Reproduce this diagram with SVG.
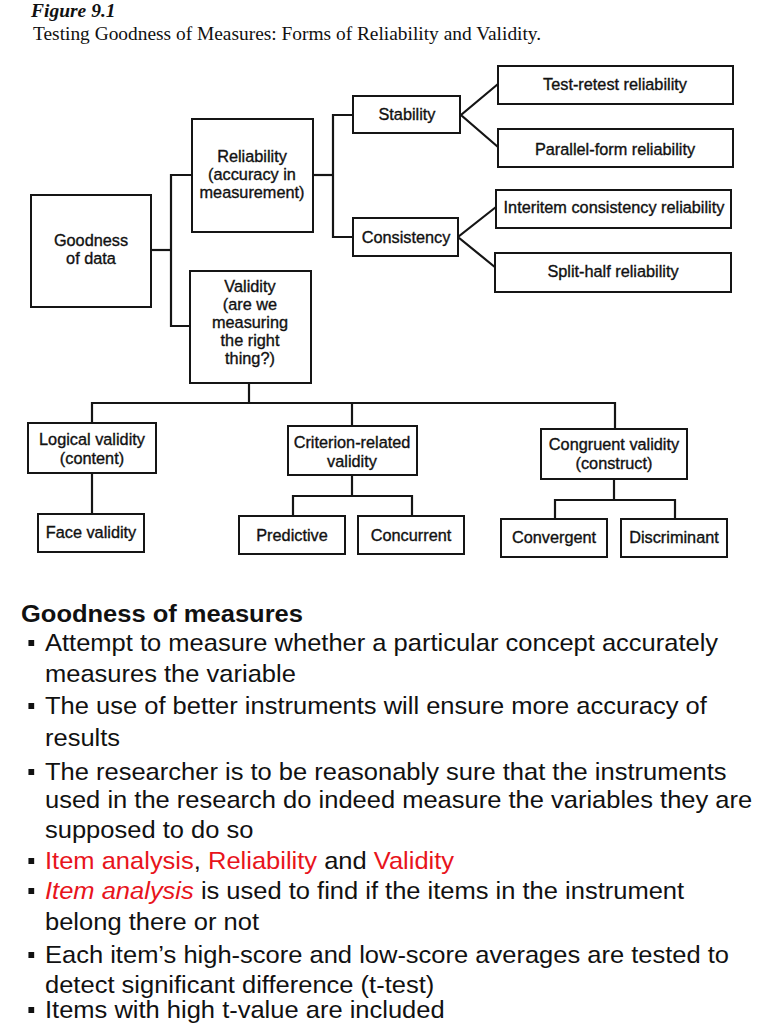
<svg xmlns="http://www.w3.org/2000/svg" width="768" height="1024" viewBox="0 0 768 1024">
<style>
.box{fill:#fff;stroke:#151515;stroke-width:2}
.lbl{font-family:"Liberation Sans",Arial,sans-serif;font-size:16.3px;fill:#111;stroke:#111;stroke-width:0.35;text-anchor:middle}
.con{fill:none;stroke:#151515;stroke-width:2.2}
.body{font-family:"Liberation Sans",Arial,sans-serif;font-size:24px;fill:#111}
.red{fill:#e8141c}
.bul{fill:#111}
</style>
<rect width="768" height="1024" fill="#fff"/>
<text x="31" y="17" font-family="Liberation Serif,serif" font-size="19.5" font-weight="bold" font-style="italic" fill="#111">Figure 9.1</text>
<text x="33" y="40" font-family="Liberation Serif,serif" font-size="19.4" fill="#111">Testing Goodness of Measures: Forms of Reliability and Validity.</text>

<g id="connectors" class="con">
<polyline points="151,250 171,250"/>
<polyline points="192,175 171,175 171,326 190,326"/>
<polyline points="313,175 333,175"/>
<polyline points="353,115 333,115 333,237 353,237"/>
<polyline points="498,84 461,115 498,147"/>
<polyline points="496,207 458,237 496,268"/>
<polyline points="249,383 249,403"/>
<polyline points="92,423 92,403 615,403 615,429"/>
<polyline points="352,403 352,426"/>
<polyline points="92,473 92,514"/>
<polyline points="352,475 352,496"/>
<polyline points="293,516 293,496 412,496 412,516"/>
<polyline points="614,479 614,500"/>
<polyline points="555,519 555,500 675,500 675,519"/>
</g>

<g id="goodness"><rect class="box" x="31" y="195" width="120" height="112"/><text class="lbl" x="91" y="246">Goodness</text><text class="lbl" x="91" y="264">of data</text></g>
<g id="reliability"><rect class="box" x="192" y="119" width="121" height="113"/><text class="lbl" x="252" y="162">Reliability</text><text class="lbl" x="252" y="180">(accuracy in</text><text class="lbl" x="252" y="198">measurement)</text></g>
<g id="validity"><rect class="box" x="190" y="271" width="121" height="112"/><text class="lbl" x="250" y="292">Validity</text><text class="lbl" x="250" y="310">(are we</text><text class="lbl" x="250" y="328">measuring</text><text class="lbl" x="250" y="346">the right</text><text class="lbl" x="250" y="364">thing?)</text></g>
<g id="stability"><rect class="box" x="353" y="96" width="107" height="37"/><text class="lbl" x="407" y="120">Stability</text></g>
<g id="consistency"><rect class="box" x="353" y="218" width="105" height="38"/><text class="lbl" x="406" y="243">Consistency</text></g>
<g id="testretest"><rect class="box" x="498" y="66" width="235" height="38"/><text class="lbl" x="615" y="90">Test-retest reliability</text></g>
<g id="parallel"><rect class="box" x="498" y="129" width="235" height="38"/><text class="lbl" x="615" y="155">Parallel-form reliability</text></g>
<g id="interitem"><rect class="box" x="496" y="190" width="235" height="38"/><text class="lbl" x="614" y="213">Interitem consistency reliability</text></g>
<g id="splithalf"><rect class="box" x="495" y="253" width="236" height="39"/><text class="lbl" x="613" y="277">Split-half reliability</text></g>
<g id="logical"><rect class="box" x="28" y="423" width="128" height="50"/><text class="lbl" x="92" y="445">Logical validity</text><text class="lbl" x="92" y="464">(content)</text></g>
<g id="criterion"><rect class="box" x="288" y="426" width="129" height="49"/><text class="lbl" x="352" y="448">Criterion-related</text><text class="lbl" x="352" y="467">validity</text></g>
<g id="congruent"><rect class="box" x="541" y="429" width="146" height="50"/><text class="lbl" x="614" y="450">Congruent validity</text><text class="lbl" x="614" y="469">(construct)</text></g>
<g id="face"><rect class="box" x="38" y="514" width="106" height="38"/><text class="lbl" x="91" y="538">Face validity</text></g>
<g id="predictive"><rect class="box" x="239" y="516" width="106" height="38"/><text class="lbl" x="292" y="541">Predictive</text></g>
<g id="concurrent"><rect class="box" x="358" y="516" width="106" height="38"/><text class="lbl" x="411" y="541">Concurrent</text></g>
<g id="convergent"><rect class="box" x="501" y="519" width="106" height="38"/><text class="lbl" x="554" y="543">Convergent</text></g>
<g id="discriminant"><rect class="box" x="621" y="519" width="106" height="38"/><text class="lbl" x="674" y="543">Discriminant</text></g>

<g id="notes" transform="translate(21,0) scale(1.063,1) translate(-21,0)">
<text x="21" y="622" font-family="Liberation Sans,Arial,sans-serif" font-size="24" font-weight="bold" fill="#111">Goodness of measures</text>
<rect class="bul" x="28" y="640" width="5.4" height="6"/>
<text class="body" x="43.6" y="651">Attempt to measure whether a particular concept accurately</text>
<text class="body" x="43.6" y="682">measures the variable</text>
<rect class="bul" x="28" y="703" width="5.4" height="6"/>
<text class="body" x="43.6" y="714">The use of better instruments will ensure more accuracy of</text>
<text class="body" x="43.6" y="746">results</text>
<rect class="bul" x="28" y="769" width="5.4" height="6"/>
<text class="body" x="43.6" y="780">The researcher is to be reasonably sure that the instruments</text>
<text class="body" x="43.6" y="808">used in the research do indeed measure the variables they are</text>
<text class="body" x="43.6" y="838">supposed to do so</text>
<rect class="bul red" x="28" y="858" width="5.4" height="6"/>
<text class="body" x="43.6" y="869"><tspan class="red">Item analysis</tspan>, <tspan class="red">Reliability</tspan> and <tspan class="red">Validity</tspan></text>
<rect class="bul red" x="28" y="888" width="5.4" height="6"/>
<text class="body" x="43.6" y="899"><tspan class="red" font-style="italic">Item analysis</tspan> is used to find if the items in the instrument</text>
<text class="body" x="43.6" y="930">belong there or not</text>
<rect class="bul" x="28" y="952" width="5.4" height="6"/>
<text class="body" x="43.6" y="963">Each item’s high-score and low-score averages are tested to</text>
<text class="body" x="43.6" y="993">detect significant difference (t-test)</text>
<rect class="bul" x="28" y="1007" width="5.4" height="6"/>
<text class="body" x="43.6" y="1018">Items with high t-value are included</text>
</g>
</svg>
